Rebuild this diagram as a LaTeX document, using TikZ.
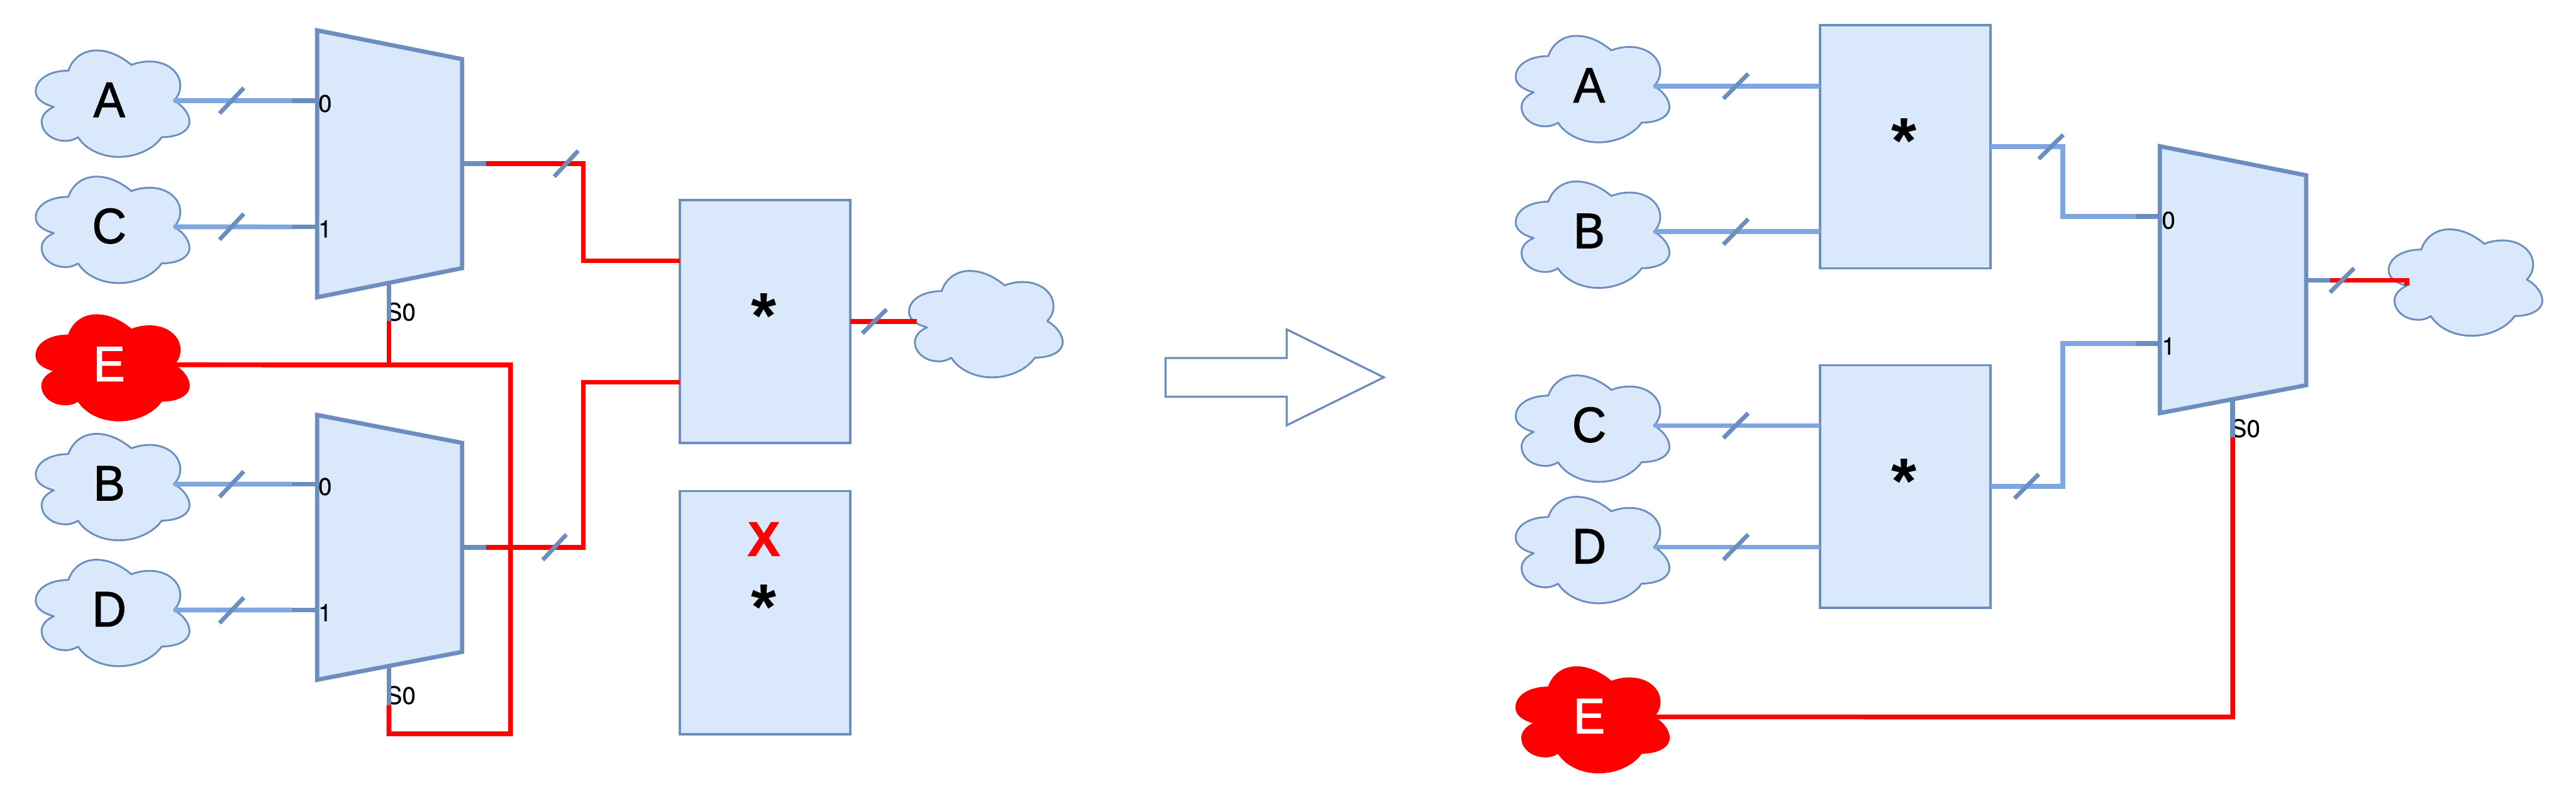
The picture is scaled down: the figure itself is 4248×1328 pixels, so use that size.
\documentclass[tikz,border=0pt]{standalone}
\usepackage{fontspec}
\usetikzlibrary{calc}
\setmainfont{Liberation Sans}
\newfontfamily\cloudfont{Liberation Sans}[FakeStretch=0.95,FakeBold=1.5]
\newfontfamily\portfont{TeX Gyre Heros}[FakeBold=0.5]
\newfontfamily\xfont{Liberation Sans}[BoldFeatures={FakeBold=1.5}]
\definecolor{bfill}{HTML}{DAE8FC}
\definecolor{bline}{HTML}{6C8EBF}
\definecolor{blight}{HTML}{7EA6E0}
\definecolor{wred}{HTML}{FF0000}
\newcommand{\fs}[1]{\fontsize{#1pt}{#1pt}\selectfont}
\tikzset{
  x=1pt, y=-1pt,
  cloudblue/.style={draw=bline, fill=bfill, line width=3pt, line join=round},
  cloudred/.style={draw=wred, fill=wred, line width=1pt, line join=round},
  cloudtext/.style={inner sep=0pt, outer sep=0pt, text height=58pt, text depth=0pt, font=\cloudfont\fs{82}},
  block/.style={draw=bline, fill=bfill, line width=4pt, inner sep=0pt, outer sep=0pt, minimum width=281pt},
  muxbody/.style={draw=bline, fill=bfill, line width=7pt, miter limit=10},
  wlight/.style={draw=blight, line width=8pt},
  wdark/.style={draw=bline, line width=8pt},
  wirered/.style={draw=wred, line width=8pt},
  tick/.style={draw=bline, line width=7pt},
  portlabel/.style={inner sep=0pt, outer sep=0pt, text height=29pt, text depth=0pt, font=\portfont\fs{40}},
  stargl/.style={inner sep=0pt, outer sep=0pt, anchor=base, font=\fs{107}\bfseries},
  bigarrow/.style={draw=bline, fill=white, line width=3.4pt},
}
% name, left, top, style, text style, label
\newcommand{\cloudat}[6]{%
  \begin{scope}[shift={(#2,#3)}, xscale=253.5, yscale=175.5]
    \draw[#4] (.118,.531)
      .. controls (.04,.50) and (0,.45) .. (0,.385)
      .. controls (0,.27) and (.09,.19) .. (.212,.19)
      .. controls (.24,.07) and (.31,0) .. (.395,0)
      .. controls (.48,0) and (.56,.06) .. (.622,.136)
      .. controls (.66,.115) and (.70,.104) .. (.74,.104)
      .. controls (.86,.104) and (.94,.21) .. (.94,.33)
      .. controls (.94,.39) and (.925,.43) .. (.899,.472)
      .. controls (.96,.52) and (1,.60) .. (1,.67)
      .. controls (1,.76) and (.92,.815) .. (.819,.815)
      .. controls (.77,.92) and (.66,1) .. (.54,1)
      .. controls (.42,1) and (.32,.92) .. (.275,.815)
      .. controls (.25,.84) and (.22,.85) .. (.195,.85)
      .. controls (.10,.85) and (.038,.76) .. (.038,.67)
      .. controls (.038,.61) and (.07,.56) .. cycle;
    \coordinate (#1-r) at (.899,.472);
    \coordinate (#1-n) at (.118,.531);
    \coordinate (#1-l) at (.05,.476);
    \node[cloudtext, #5] (#1) at (.478,.46) {#6};
  \end{scope}}
\newcommand{\tickmark}[4]{\draw[tick] (#1,#2) -- (#3,#4);}
\begin{document}
\begin{tikzpicture}
\useasboundingbox (0,0) rectangle (4248,1328);

% ---------- clouds, left panel
\cloudat{lA}{59}{83.1}{cloudblue}{}{A}
\cloudat{lC}{59}{291.1}{cloudblue}{}{C}
\cloudat{lE}{59}{518.5}{cloudred}{text=white}{E}
\cloudat{lB}{59}{715.1}{cloudblue}{}{B}
\cloudat{lD}{59}{922.6}{cloudblue}{}{D}

% ---------- muxes, left panel
\draw[muxbody] (523,50) -- (762,97.5) -- (762,442) -- (523,490) -- cycle;
\draw[muxbody] (523,684) -- (762,730) -- (762,1074.5) -- (523,1120.5) -- cycle;
\coordinate (m1a) at (523,166);
\coordinate (m1b) at (523,374);
\coordinate (m1o) at (762,270);
\coordinate (m1s) at (641.5,466);
\coordinate (m2a) at (523,798);
\coordinate (m2b) at (523,1005.5);
\coordinate (m2o) at (762,902);
\coordinate (m2s) at (641.5,1100.5);
\node[portlabel] (m1p0) at (536,170) {0};
\node[portlabel] (m1p1) at (536,377) {1};
\node[portlabel] (m1ps) at (661,514) {S0};
\node[portlabel] (m2p0) at (536,801.5) {0};
\node[portlabel] (m2p1) at (536,1009.5) {1};
\node[portlabel] (m2ps) at (661,1146) {S0};

% ---------- blocks, left panel
\node[block, minimum height=400pt] (LB1) at (1262,530) {};
\node[block, minimum height=400.5pt] (LB2) at (1262,1009.75) {};
\node[stargl] (star1) at (1259.6,557.5) {*};
\node[stargl, font=\xfont\fs{80}\bfseries, text=wred] (xmark) at (1259.6,916) {X};
\node[stargl] (star2) at (1259.6,1037.2) {*};

% ---------- wires, left panel
\draw[wlight] (lA-r) -- (481.5,166);
\draw[wlight] (lC-r) -- (481.5,374);
\draw[wlight] (lB-r) -- (481.5,798);
\draw[wlight] (lD-r) -- (481.5,1005.5);
\draw[wdark] (481.5,166) -- (m1a);
\draw[wdark] (481.5,374) -- (m1b);
\draw[wdark] (481.5,798) -- (m2a);
\draw[wdark] (481.5,1005.5) -- (m2b);
\coordinate (o1) at (802,270);
\coordinate (o2) at (802,902);
\coordinate (s1) at (641.5,529);
\coordinate (s2) at (641.5,1162);
\coordinate (bendA) at (962,270);
\coordinate (bendB) at (962,902);
\coordinate (busTop) at (842,601.5);
\coordinate (busBot) at (842,1209.5);
\coordinate (tapE) at (641.5,601.5);
\draw[wirered] (o1) -- (bendA) |- ($(LB1.west)+(0,-100)$);
\draw[wirered] (o2) -- (bendB) |- ($(LB1.west)+(0,100)$);
\draw[wirered] (lE-r) -- (tapE) -- (busTop) -- (busBot) -- (641.5,1209.5) -- (s2);
\draw[wirered] (tapE) -- (s1);
\draw[wdark] (m1o) -- (o1);
\draw[wdark] (m2o) -- (o2);
\draw[wdark] (m1s) -- (s1);
\draw[wdark] (m2s) -- (s2);
\cloudat{lO}{1499}{446.5}{cloudblue}{}{}
\draw[wirered] (LB1.east) -- (lO-l);
\tickmark{362}{187}{402}{145}
\tickmark{362}{395}{402}{352.5}
\tickmark{362}{819}{402}{777}
\tickmark{362}{1027}{402}{985}
\tickmark{914}{291}{953.5}{248.5}
\tickmark{895}{923}{934}{881}
\tickmark{1422}{549.5}{1462}{510}

% ---------- big arrow
\draw[bigarrow] (1922,590) -- (2122,590) -- (2122,543) -- (2282,622) -- (2122,701) -- (2122,654) -- (1922,654) -- cycle;

% ---------- clouds, right panel
\cloudat{rA}{2499.5}{59.1}{cloudblue}{}{A}
\cloudat{rB}{2499.5}{299.1}{cloudblue}{}{B}
\cloudat{rC}{2499.5}{618.8}{cloudblue}{}{C}
\cloudat{rD}{2499.5}{818.9}{cloudblue}{}{D}
\cloudat{rE}{2499.5}{1098.8}{cloudred}{text=white}{E}
\cloudat{rO}{3939}{378}{cloudblue}{}{}

% ---------- blocks, right panel
\node[block, minimum height=400.7pt] (RB1) at (3142,242) {};
\node[block, minimum height=399.6pt] (RB2) at (3142,801.8) {};
\node[stargl] (star3) at (3140,269.5) {*};
\node[stargl] (star4) at (3140,830) {*};

% ---------- mux, right panel
\draw[muxbody] (3561.6,241) -- (3803,289) -- (3803,635) -- (3561.6,681) -- cycle;
\coordinate (m3a) at (3561.6,357);
\coordinate (m3b) at (3561.6,566);
\coordinate (m3o) at (3803,462);
\coordinate (m3s) at (3682,657.5);
\node[portlabel] (m3p0) at (3576,362.5) {0};
\node[portlabel] (m3p1) at (3576,570) {1};
\node[portlabel] (m3ps) at (3702.7,706) {S0};

% ---------- wires, right panel
\draw[wlight] (rA-r) -- (rA-r -| RB1.west);
\draw[wlight] (rB-r) -- (rB-r -| RB1.west);
\draw[wlight] (rC-r) -- (rC-r -| RB2.west);
\draw[wlight] (rD-r) -- (rD-r -| RB2.west);
\coordinate (k3) at (3522,357);
\coordinate (k4) at (3522,566);
\coordinate (b3) at (3402,357);
\coordinate (b4) at (3402,566);
\draw[wlight] (RB1.east) -| (b3) -- (k3);
\draw[wlight] (RB2.east) -| (b4) -- (k4);
\draw[wdark] (k3) -- (m3a);
\draw[wdark] (k4) -- (m3b);
\coordinate (o3) at (3842,462);
\coordinate (s3) at (3682,720.5);
\coordinate (bendE) at (3682,1181.7);
\draw[wirered] (o3) -| (rO-n);
\draw[wirered] (rE-r) -- (bendE) -- (s3);
\draw[wdark] (m3o) -- (o3);
\draw[wdark] (m3s) -- (s3);
\tickmark{2842}{162.5}{2883}{121.5}
\tickmark{2842}{403}{2883}{361}
\tickmark{2842}{722}{2883}{681}
\tickmark{2842}{922.5}{2883}{881}
\tickmark{3362}{262}{3402.5}{222}
\tickmark{3322}{821.5}{3362}{781.7}
\tickmark{3842.4}{482}{3882}{442}
\end{tikzpicture}
\end{document}
